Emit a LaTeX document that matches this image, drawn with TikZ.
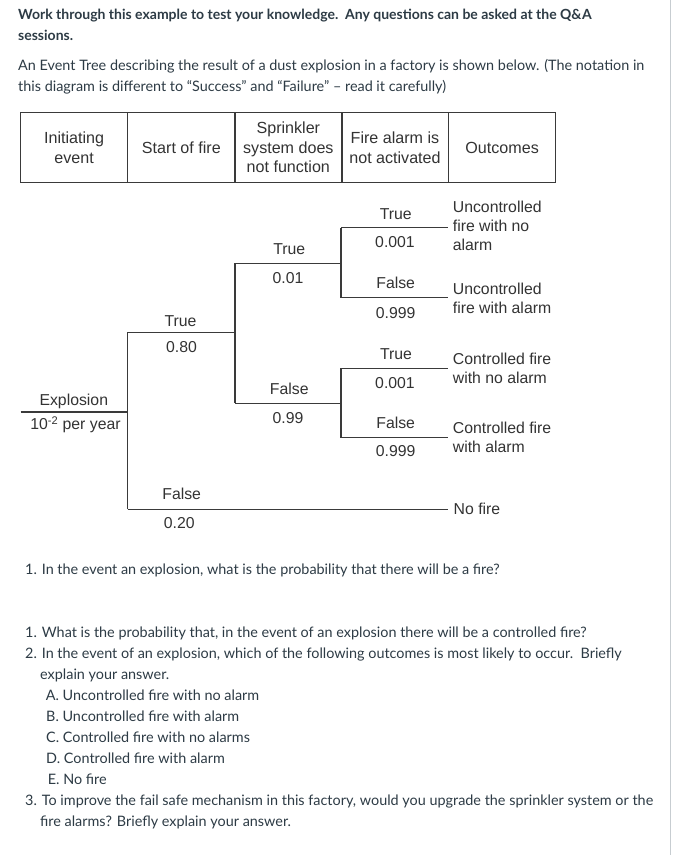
\documentclass[tikz,border=0pt]{standalone}
\usepackage{fontspec}
\setmainfont{Lato}
\newfontfamily\arialf{Liberation Sans}
\definecolor{bodytxt}{HTML}{2D3B45}
\definecolor{linec}{HTML}{3A3A3A}
\definecolor{diagtxt}{HTML}{333333}
\definecolor{rulec}{HTML}{C7CDD1}
\tikzset{
  bodyline/.style={anchor=base west, inner sep=0pt, text=bodytxt, font=\fontsize{14.4}{21}\selectfont},
  titleline/.style={bodyline, font=\fontsize{14}{21}\selectfont\bfseries},
  cell/.style={draw=linec, line width=1.2pt, minimum width=107.2pt, minimum height=70pt, inner sep=0pt,
    align=center, text=diagtxt, font=\arialf\fontsize{16.1}{19.5}\selectfont},
  lbl/.style={anchor=center, inner sep=0pt, text=diagtxt, text height=11.3pt, text depth=0pt,
    font=\arialf\fontsize{15.8}{19.3}\selectfont},
  outc/.style={anchor=base west, inner sep=0pt, align=left, text=diagtxt,
    font=\arialf\fontsize{15.8}{19.3}\selectfont},
  branch/.style={draw=linec, line width=1.3pt}
}
\begin{document}
\begin{tikzpicture}[x=1pt,y=-1pt]
\useasboundingbox (0,0) rectangle (692,855);
\fill[white] (0,0) rectangle (692,855);
\draw[rulec, line width=1pt] (670,0) -- (670,855);

% intro text
\node[titleline] (t1) at (18,19) {Work through this example to test your knowledge.\ \ Any questions can be asked at the Q\&A};
\node[titleline] (t2) at (18,40) {sessions.};
\node[bodyline] (p1) at (18,70) {An Event Tree describing the result of a dust explosion in a factory is shown below. (The notation in};
\node[bodyline] (p2) at (18,91) {this diagram is different to “Success” and “Failure” – read it carefully)};

% header table
\node[cell] (h1) at (74.1,147.7) {Initiating\\event};
\node[cell] (h2) at (181.35,147.7) {Start of fire};
\node[cell] (h3) at (288.35,147.7) {Sprinkler\\system does\\not function};
\node[cell] (h4) at (395,147.7) {Fire alarm is\\not activated};
\node[cell] (h5) at (502.15,147.7) {Outcomes};

% tree junctions
\coordinate (e0) at (20.5,412);
\coordinate (e1) at (127.7,412);
\coordinate (s1) at (127.7,332.3);
\coordinate (s0) at (127.7,509.3);
\coordinate (s1e) at (235,332.3);
\coordinate (a1) at (235,263.3);
\coordinate (a0) at (235,403.3);
\coordinate (a1e) at (341,263.3);
\coordinate (a0e) at (341,403.3);
\coordinate (b11) at (341,227.7);
\coordinate (b10) at (341,297.7);
\coordinate (b01) at (341,368.3);
\coordinate (b00) at (341,437.7);
\coordinate (o1) at (448.3,227.7);
\coordinate (o2) at (448.3,297.7);
\coordinate (o3) at (448.3,368.3);
\coordinate (o4) at (448.3,437.7);
\coordinate (o5) at (448.3,509.3);

\draw[branch] (e0) -- (e1);
\draw[branch] (s1) -- (s0);
\draw[branch] (s1) -- (s1e);
\draw[branch] (s0) -- (o5);
\draw[branch] (a1) -- (a0);
\draw[branch] (a1) -- (a1e);
\draw[branch] (a0) -- (a0e);
\draw[branch] (b11) -- (b10);
\draw[branch] (b01) -- (b00);
\draw[branch] (b11) -- (o1);
\draw[branch] (b10) -- (o2);
\draw[branch] (b01) -- (o3);
\draw[branch] (b00) -- (o4);

% tree labels
\node[lbl] (ex) at (73.8,400) {Explosion};
\node[lbl] (exf) at (75.5,424) {10\textsuperscript{-2} per year};
\node[lbl] (l1t) at (180.5,320.7) {True};
\node[lbl] (l1p) at (181.5,346.7) {0.80};
\node[lbl] (l0t) at (181.7,494) {False};
\node[lbl] (l0p) at (179.2,522.7) {0.20};
\node[lbl] (m1t) at (289.3,249.3) {True};
\node[lbl] (m1p) at (288,278) {0.01};
\node[lbl] (m0t) at (289.3,389) {False};
\node[lbl] (m0p) at (288,417.7) {0.99};
\node[lbl] (n11t) at (395.7,214) {True};
\node[lbl] (n11p) at (395,241.7) {0.001};
\node[lbl] (n10t) at (395.7,283.3) {False};
\node[lbl] (n10p) at (395.7,313.3) {0.999};
\node[lbl] (n01t) at (396,354.3) {True};
\node[lbl] (n01p) at (395,382.7) {0.001};
\node[lbl] (n00t) at (395.7,422.7) {False};
\node[lbl] (n00p) at (395.7,451) {0.999};

% outcomes (anchor = baseline of last line)
\node[outc] (oc1) at (452.7,250.9) {Uncontrolled\\fire with no\\alarm};
\node[outc] (oc2) at (452.7,313.9) {Uncontrolled\\fire with alarm};
\node[outc] (oc3) at (452.7,383.9) {Controlled fire\\with no alarm};
\node[outc] (oc4) at (452.7,452.6) {Controlled fire\\with alarm};
\node[outc] (oc5) at (453.5,514.1) {No fire};

% questions
\node[bodyline] (q0) at (25,574.5) {1. In the event an explosion, what is the probability that there will be a fire?};
\node[bodyline] (q1) at (25,637) {1. What is the probability that, in the event of an explosion there will be a controlled fire?};
\node[bodyline] (q2) at (25,658) {2. In the event of an explosion, which of the following outcomes is most likely to occur.\ \ Briefly};
\node[bodyline] (q2b) at (40,679) {explain your answer.};
\node[bodyline] (qa) at (45.7,700) {A. Uncontrolled fire with no alarm};
\node[bodyline] (qb) at (46,721) {B. Uncontrolled fire with alarm};
\node[bodyline] (qc) at (46,742) {C. Controlled fire with no alarms};
\node[bodyline] (qd) at (46,763) {D. Controlled fire with alarm};
\node[bodyline] (qe) at (47.7,784) {E. No fire};
\node[bodyline] (q3) at (25,805) {3. To improve the fail safe mechanism in this factory, would you upgrade the sprinkler system or the};
\node[bodyline] (q3b) at (40,826) {fire alarms? Briefly explain your answer.};
\end{tikzpicture}
\end{document}
